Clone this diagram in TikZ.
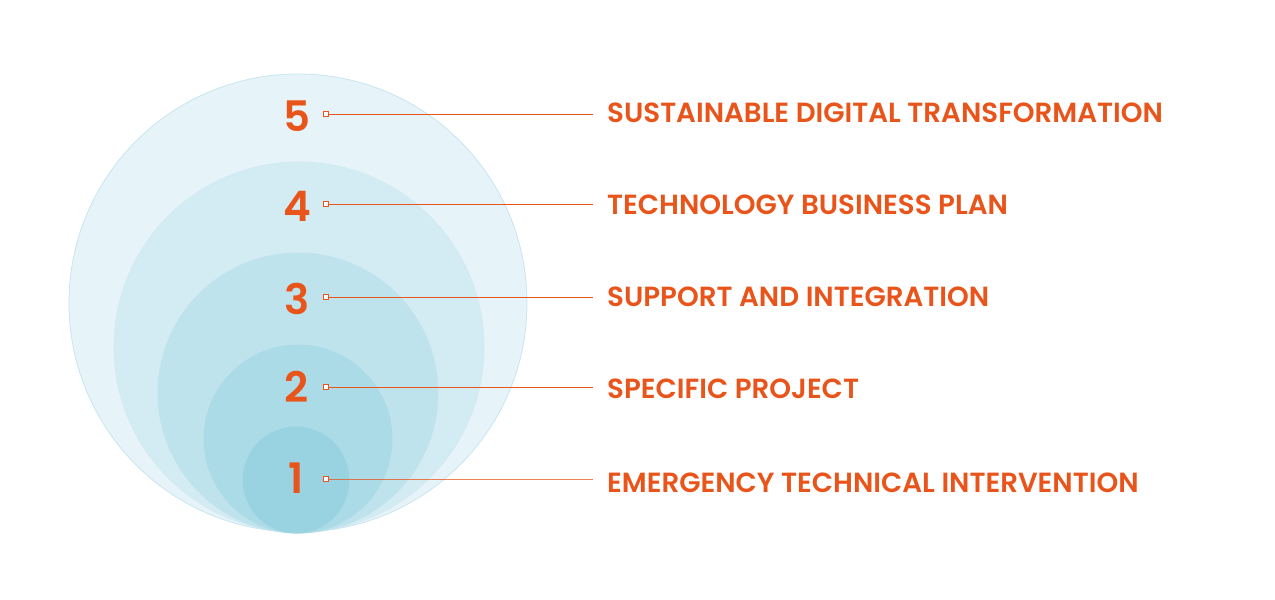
\documentclass[tikz,border=0pt]{standalone}
\usepackage{fontspec}
\setmainfont{Poppins}[BoldFont={Poppins SemiBold}]
\definecolor{orng}{HTML}{E9541B}
\definecolor{cA}{HTML}{E6F4F9}
\definecolor{cB}{HTML}{D3EBF2}
\definecolor{cC}{HTML}{BFE3EC}
\definecolor{cD}{HTML}{ABDBE6}
\definecolor{cE}{HTML}{99D3E1}
\definecolor{cEdge}{HTML}{C8E5EF}
\tikzset{
  ring/.style={circle, inner sep=0pt, minimum size=#1, draw=cEdge, line width=0.8pt},
  num/.style={font=\fontsize{42}{42}\selectfont\bfseries, text=orng, inner sep=0pt},
  lab/.style={font=\fontsize{27.7}{27.7}\selectfont\bfseries, text=orng, anchor=west, inner sep=0pt},
  marker/.style={rectangle, draw=orng, fill=white, line width=0.8pt, minimum size=5pt, inner sep=0pt},
  lead/.style={draw=orng, line width=0.9pt}
}
\begin{document}
\begin{tikzpicture}[x=1pt,y=-1pt]
\useasboundingbox (0,0) rectangle (1275,600);
\node[ring=458pt, fill=cA] (c5) at (298,303) {};
\node[ring=370pt, fill=cB, draw=cB!90!cEdge] (c4) at (299,347) {};
\node[ring=280pt, fill=cC, draw=cC] (c3) at (298,393) {};
\node[ring=188pt, fill=cD, draw=cD] (c2) at (298,439) {};
\node[ring=106pt, fill=cE, draw=cE] (c1) at (296,480) {};
% numbers
\node[num] (n5) at (297,116) {5};
\node[num] (n4) at (297,206) {4};
\node[num] (n3) at (297,299) {3};
\node[num] (n2) at (297,387) {2};
\node[num] (n1) at (296,478) {1};
% markers
\node[marker] (m5) at (326,114) {};
\node[marker] (m4) at (326,204) {};
\node[marker] (m3) at (326,297) {};
\node[marker] (m2) at (326,387) {};
\node[marker] (m1) at (326,479) {};
% line ends
\coordinate (e5) at (593,114);
\coordinate (e4) at (593,204);
\coordinate (e3) at (593,297);
\coordinate (e2) at (593,387);
\coordinate (e1) at (593,479);
\draw[lead] (m5) -- (e5);
\draw[lead] (m4) -- (e4);
\draw[lead] (m3) -- (e3);
\draw[lead] (m2) -- (e2);
\draw[lead, draw opacity=0.75] (m1) -- (e1);
% labels
\node[lab] (l5) at (607,113) {SUSTAINABLE DIGITAL TRANSFORMATION};
\node[lab] (l4) at (607,205) {TECHNOLOGY BUSINESS PLAN};
\node[lab] (l3) at (607,297) {SUPPORT AND INTEGRATION};
\node[lab] (l2) at (607,389) {SPECIFIC PROJECT};
\node[lab] (l1) at (607,483) {EMERGENCY TECHNICAL INTERVENTION};
\end{tikzpicture}
\end{document}
